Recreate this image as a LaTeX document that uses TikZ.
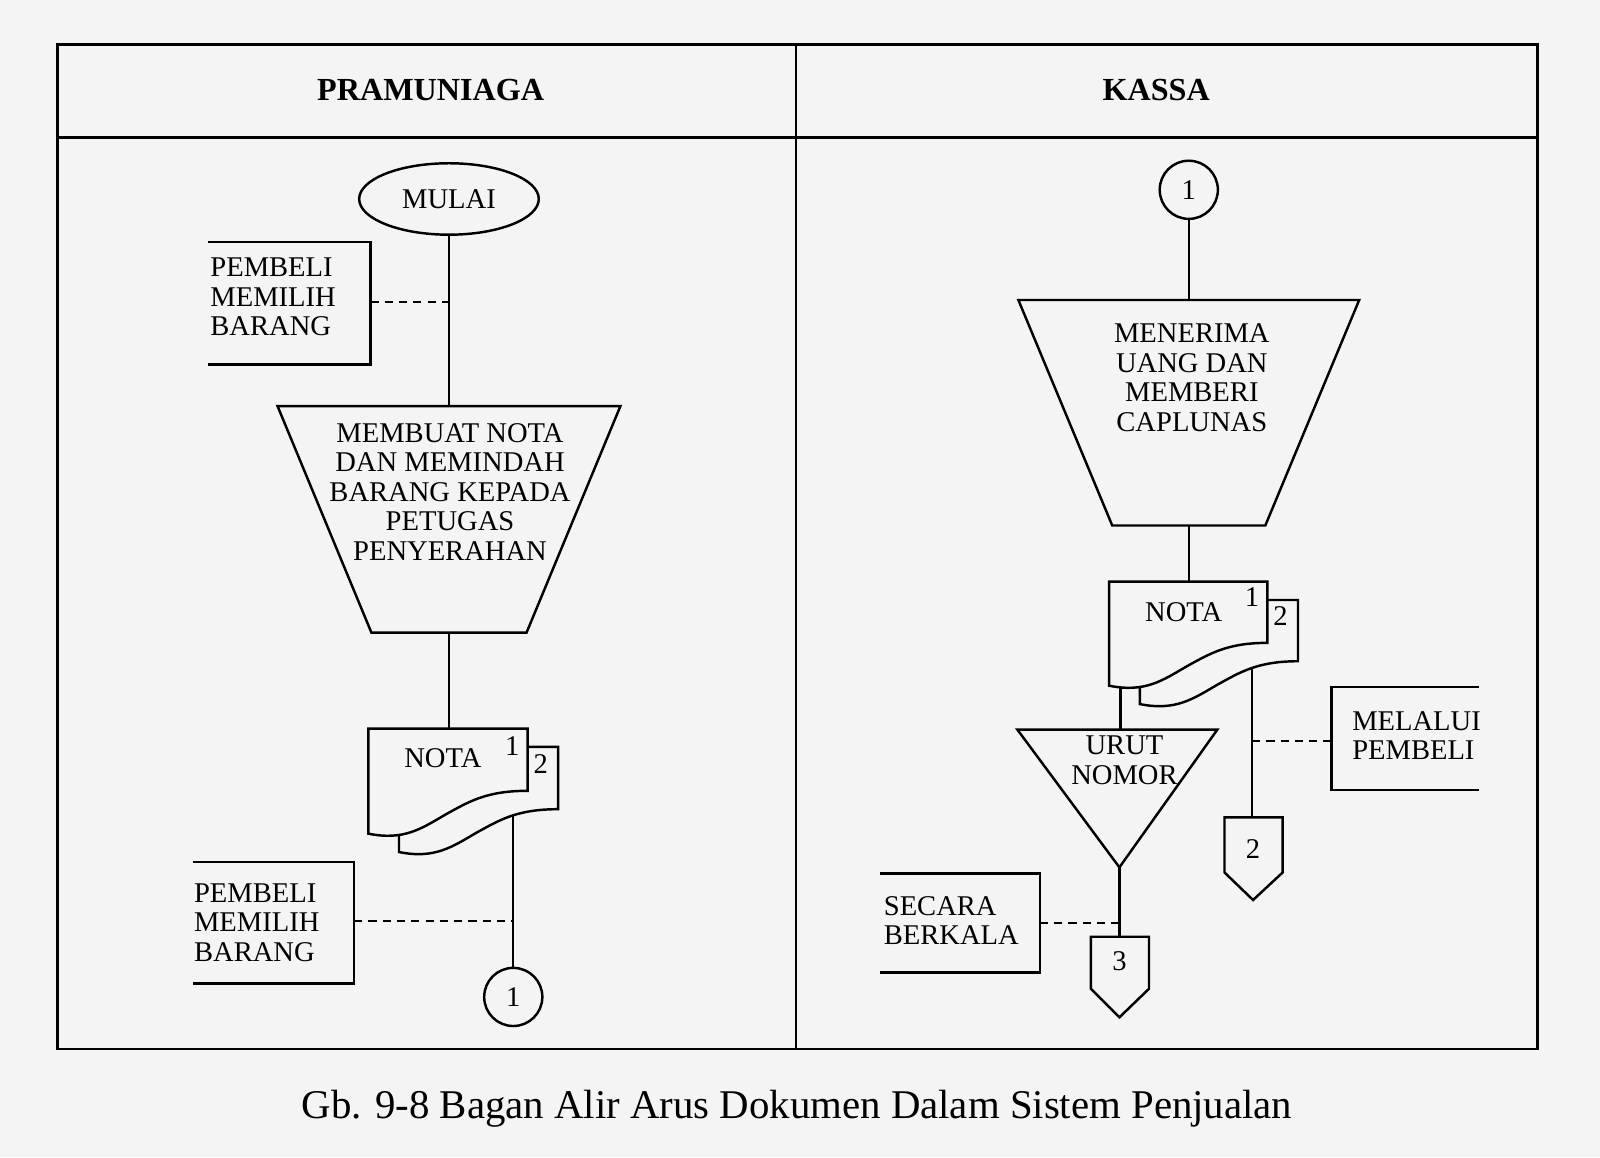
\documentclass[tikz,border=0pt]{standalone}
\usepackage{fontspec}
\setmainfont{Liberation Serif}
\usetikzlibrary{shapes.geometric}
\pgfdeclarelayer{back}
\pgfdeclarelayer{bg}
\pgfsetlayers{back,bg,main}
\definecolor{paper}{RGB}{244,244,244}
\newcommand\flfont{\fontsize{28}{29}\selectfont}
\begin{document}
\begin{tikzpicture}[x=1pt,y=-1pt,
  line width=2.4pt,
  frameline/.style={line width=2.8pt},
  flow/.style={line width=2.4pt},
  dashline/.style={line width=2pt, dash pattern=on 8pt off 6pt},
  shapeline/.style={line width=2.4pt, fill=paper, line join=miter},
  txt/.style={inner sep=0pt, font=\flfont, align=center},
  ltxt/.style={inner sep=0pt, font=\flfont, align=left, anchor=west},
  head/.style={inner sep=0pt, font=\fontsize{31.5}{33}\selectfont\bfseries},
  conn/.style={circle, draw, line width=2.4pt, fill=paper, minimum size=57pt, inner sep=0pt, font=\flfont},
]
% background and bounding box
\begin{pgfonlayer}{back}
\fill[paper] (0,0) rectangle (1568,1134);
\end{pgfonlayer}
\useasboundingbox (0,0) rectangle (1568,1134);

% frame
\draw[frameline] (56,44) rectangle (1507,1028);
\draw[frameline] (56,135) -- (1507,135);
\draw[frameline] (780,44) -- (780,1028);
\node[head] (hPram) at (422,88) {PRAMUNIAGA};
\node[head] (hKassa) at (1133,88) {KASSA};

% ================= LEFT LANE =================
\node[ellipse, draw, line width=2.4pt, fill=paper, minimum width=176pt, minimum height=70pt, inner sep=0pt, font=\flfont] (mulai) at (440,195) {MULAI};

% annotation A
\draw[shapeline, fill=none] (204,237) -- (363,237) -- (363,357) -- (204,357);
\node[ltxt] (annA) at (206,291) {PEMBELI\\MEMILIH\\BARANG};
\coordinate (annAr) at (363,296);
\coordinate (annAj) at (440,296);

% trapezoid 1
\draw[shapeline] (272,398) -- (608,398) -- (516,620) -- (364,620) -- cycle;
\coordinate (tr1top) at (440,398);
\coordinate (tr1bot) at (440,620);
\node[txt] (tr1txt) at (441,482) {MEMBUAT NOTA\\DAN MEMINDAH\\BARANG KEPADA\\PETUGAS\\PENYERAHAN};

% document left
\coordinate (docLtop) at (440,714);
\coordinate (docLbot) at (503,780);
\begin{scope}[shift={(391,732)}]
  \draw[shapeline] (0,0) -- (156,0) -- (156,61) .. controls (115,61) and (98,72) .. (76,84) .. controls (52,98) and (35,110) .. (0,103) -- cycle;
\end{scope}
\begin{scope}[shift={(361,714)}]
  \draw[shapeline] (0,0) -- (156,0) -- (156,61) .. controls (115,61) and (98,72) .. (76,84) .. controls (52,98) and (35,110) .. (0,103) -- cycle;
\end{scope}
\node[txt] (docLlbl) at (434,743) {NOTA};
\node[txt] (docL1) at (502,731) {1};
\node[txt] (docL2) at (530,749) {2};

% annotation B
\draw[shapeline, fill=none] (189,845) -- (347,845) -- (347,964) -- (189,964);
\node[ltxt] (annB) at (190,904) {PEMBELI\\MEMILIH\\BARANG};
\coordinate (annBr) at (347,903);
\coordinate (annBj) at (503,903);

\node[conn] (c1L) at (503,977) {1};

% ================= RIGHT LANE =================
\node[conn] (c1R) at (1165,186) {1};

% trapezoid 2
\draw[shapeline] (998,294) -- (1332,294) -- (1240,515) -- (1090,515) -- cycle;
\coordinate (tr2top) at (1165,294);
\coordinate (tr2bot) at (1165,515);
\node[txt] (tr2txt) at (1168,370) {MENERIMA\\UANG DAN\\MEMBERI\\CAPLUNAS};

% document right
\coordinate (docRtop) at (1165,570);
\coordinate (docRbotA) at (1098,650);
\coordinate (docRbotB) at (1227,640);
\begin{scope}[shift={(1117,588)}]
  \draw[shapeline] (0,0) -- (155,0) -- (155,60) .. controls (115,60) and (98,71) .. (76,83) .. controls (52,97) and (35,109) .. (0,102) -- cycle;
\end{scope}
\begin{scope}[shift={(1087,570)}]
  \draw[shapeline] (0,0) -- (155,0) -- (155,60) .. controls (115,60) and (98,71) .. (76,83) .. controls (52,97) and (35,109) .. (0,102) -- cycle;
\end{scope}
\node[txt] (docRlbl) at (1160,600) {NOTA};
\node[txt] (docR1) at (1227,585) {1};
\node[txt] (docR2) at (1255,604) {2};

% triangle URUT NOMOR
\draw[shapeline] (997,715) -- (1193,715) -- (1097,850) -- cycle;
\coordinate (triTop) at (1098,715);
\coordinate (triBot) at (1097,850);
\node[txt] (triTxt) at (1102,745) {URUT\\NOMOR};

% off-page 3
\draw[shapeline] (1069,918) -- (1126,918) -- (1126,969) -- (1097,997) -- (1069,969) -- cycle;
\coordinate (off3top) at (1097,918);
\node[txt] (off3) at (1097,942) {3};

% SECARA BERKALA
\draw[shapeline, fill=none] (862,856) -- (1019,856) -- (1019,953) -- (862,953);
\node[ltxt] (annC) at (866,902) {SECARA\\BERKALA};
\coordinate (annCr) at (1019,905);
\coordinate (annCj) at (1097,905);

% off-page 2
\draw[shapeline] (1200,801) -- (1257,801) -- (1257,855) -- (1228,882) -- (1200,855) -- cycle;
\coordinate (off2top) at (1227,801);
\node[txt] (off2) at (1228,832) {2};

% MELALUI PEMBELI
\draw[shapeline, fill=none] (1449,673) -- (1305,673) -- (1305,774) -- (1449,774);
\node[ltxt] (annD) at (1325,721) {MELALUI\\PEMBELI};
\coordinate (annDl) at (1305,726);
\coordinate (annDj) at (1227,726);

% caption
\node[inner sep=0pt, font=\fontsize{40}{44}\selectfont] (caption) at (781,1087) {Gb. 9-8 Bagan Alir Arus Dokumen Dalam Sistem Penjualan};

% ================= CONNECTORS =================
\begin{pgfonlayer}{bg}
  \draw[flow] (mulai.south) -- (tr1top);
  \draw[flow] (tr1bot) -- (docLtop);
  \draw[flow] (docLbot) -- (c1L.north);
  \draw[dashline] (annAr) -- (annAj);
  \draw[dashline] (annBr) -- (annBj);
  \draw[flow] (c1R.south) -- (tr2top);
  \draw[flow] (tr2bot) -- (docRtop);
  \draw[flow] (docRbotA) -- (triTop);
  \draw[flow] (triBot) -- (off3top);
  \draw[flow] (docRbotB) -- (off2top);
  \draw[dashline] (annCr) -- (annCj);
  \draw[dashline] (annDl) -- (annDj);
\end{pgfonlayer}
\end{tikzpicture}
\end{document}
